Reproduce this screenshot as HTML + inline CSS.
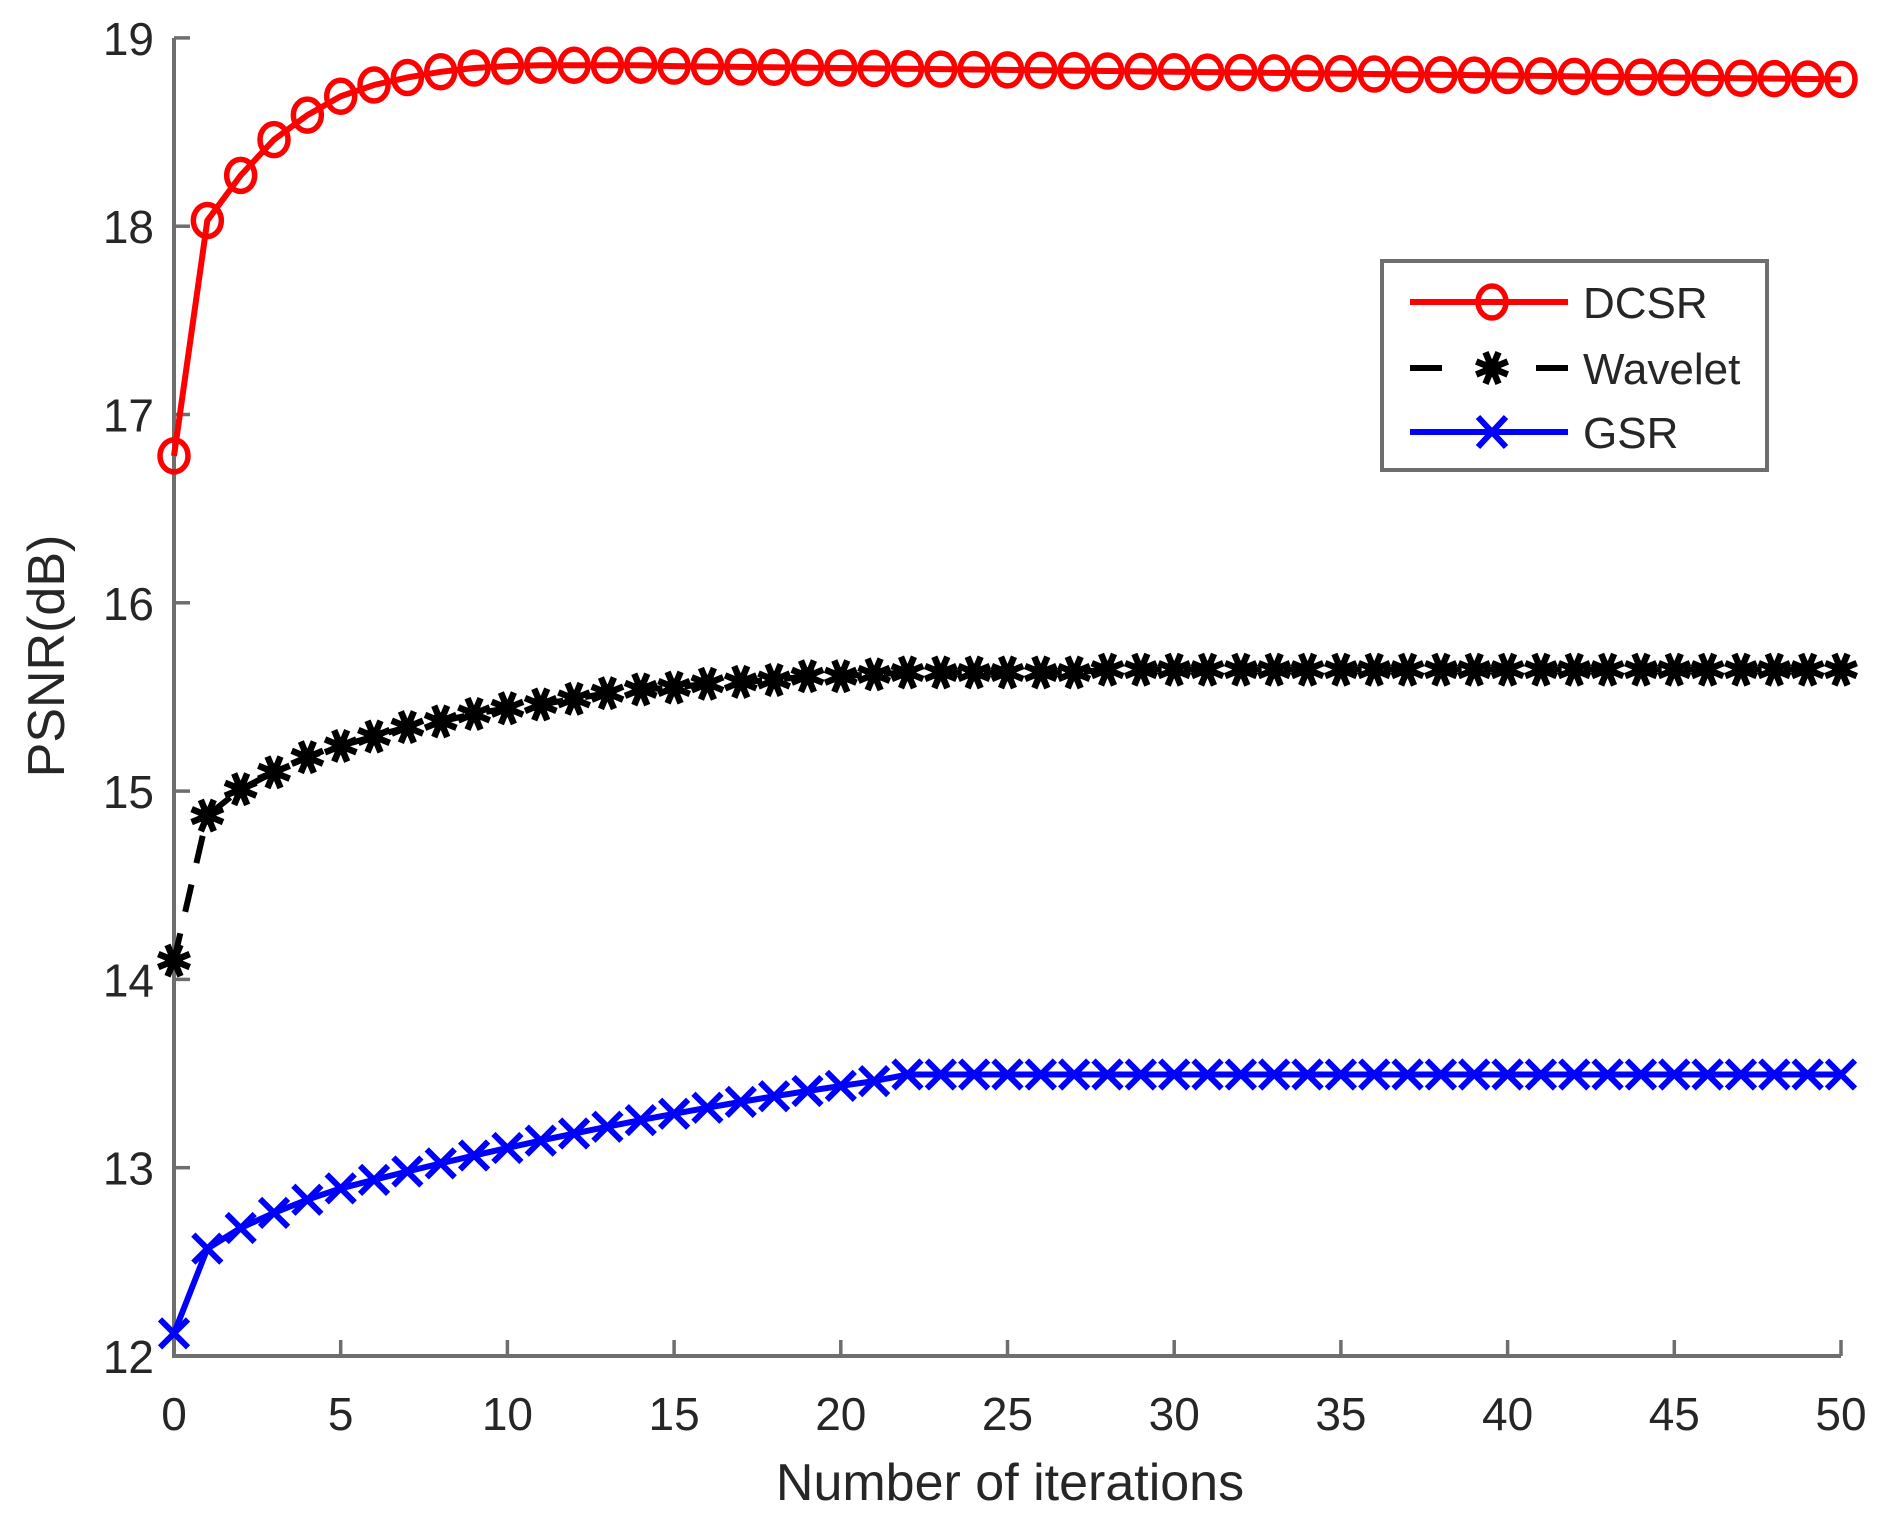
<!DOCTYPE html>
<html><head><meta charset="utf-8"><style>
html,body{margin:0;padding:0;background:#fff;}
svg{display:block;}
text{font-family:"Liberation Sans",sans-serif;fill:#262626;}
</style></head><body>
<svg id="c" width="1895" height="1528" viewBox="0 0 1895 1528" xmlns="http://www.w3.org/2000/svg">
<rect width="1895" height="1528" fill="#fff"/>
<g id="axes" stroke="#6e6e6e" stroke-width="4" fill="none">
<path d="M174,38 L174,1356 L1841,1356"/>
</g>
<g id="ticks" stroke="#6e6e6e" stroke-width="3.5"></g>
<g id="labels" font-size="46"></g>
<g id="series"></g>
<text x="1010" y="1500" font-size="52" text-anchor="middle">Number of iterations</text>
<text transform="translate(64,656) rotate(-90)" font-size="52" text-anchor="middle">PSNR(dB)</text>
<g id="legend">
<rect x="1382" y="261" width="385" height="209" fill="#fff" stroke="#6e6e6e" stroke-width="4"/>
<line x1="1410" y1="302" x2="1568" y2="302" stroke="#ff0000" stroke-width="6"/>
<ellipse cx="1492" cy="302" rx="14" ry="16" fill="none" stroke="#ff0000" stroke-width="5.5"/>
<line x1="1410" y1="368" x2="1442" y2="368" stroke="#000" stroke-width="6"/>
<line x1="1536" y1="368" x2="1568" y2="368" stroke="#000" stroke-width="6"/>
<g id="lgstar"></g>
<line x1="1410" y1="432" x2="1568" y2="432" stroke="#0000ff" stroke-width="6"/>
<path d="M1478,417 L1506,447 M1506,417 L1478,447" stroke="#0000ff" stroke-width="6"/>
<text x="1583" y="318" font-size="44">DCSR</text>
<text x="1583" y="384" font-size="44">Wavelet</text>
<text x="1583" y="448" font-size="44">GSR</text>
</g>
</svg>
<script>
var NS="http://www.w3.org/2000/svg";
function X(i){return 174+i*33.34;}
function Y(v){return 1356-(v-12)*188.3;}
function el(p,n,a){var e=document.createElementNS(NS,n);for(var k in a)e.setAttribute(k,a[k]);p.appendChild(e);return e;}
var T=document.getElementById('ticks'),L=document.getElementById('labels');
for(var i=0;i<=50;i+=5){el(T,'line',{x1:X(i),y1:1356,x2:X(i),y2:1340});
 var t=el(L,'text',{x:X(i),y:1430,'text-anchor':'middle'});t.textContent=i;}
for(var v=12;v<=19;v++){el(T,'line',{x1:174,y1:Y(v),x2:190,y2:Y(v)});
 var t=el(L,'text',{x:154,y:Y(v)+17,'text-anchor':'end'});t.textContent=v;}
var d=[16.78,18.03,18.27,18.46,18.59,18.69,18.75,18.79,18.82,18.84,18.85,18.855,18.855,18.855,18.855,18.85];
for(var i=16;i<=50;i++)d.push(18.85-(i-15)*0.002);
var w=[14.1,14.87,15.01,15.1,15.18,15.24,15.29,15.34,15.37,15.41,15.44,15.46,15.49,15.52,15.54,15.55,15.57,15.58,15.59,15.61,15.61,15.62,15.63,15.63,15.63,15.63,15.63,15.63];
while(w.length<51)w.push(15.645);
var g=[12.12,12.57,12.68,12.76,12.83,12.89];
for(var i=6;i<=21;i++){var f=(i-5)/16;g.push(12.89+0.57*(1.3*f-0.3*f*f));}
while(g.length<51)g.push(13.495);
var S=document.getElementById('series');
function pts(a){return a.map(function(v,i){return X(i)+','+Y(v);}).join(' ');}
el(S,'polyline',{points:pts(d),fill:'none',stroke:'#ff0000','stroke-width':6});
el(S,'polyline',{points:pts(w),fill:'none',stroke:'#000','stroke-width':6,'stroke-dasharray':'28,22'});
el(S,'polyline',{points:pts(g),fill:'none',stroke:'#0000ff','stroke-width':6});
d.forEach(function(v,i){el(S,'ellipse',{cx:X(i),cy:Y(v),rx:14,ry:16,fill:'none',stroke:'#ff0000','stroke-width':5.5});});
function star(p,x,y){var r=17,s='';for(var k=0;k<4;k++){var a=k*Math.PI/4+Math.PI/8;s+='M'+(x-r*Math.cos(a))+','+(y-r*Math.sin(a))+' L'+(x+r*Math.cos(a))+','+(y+r*Math.sin(a))+' ';}
 el(p,'path',{d:s,stroke:'#000','stroke-width':6.5,fill:'none'});el(p,'circle',{cx:x,cy:y,r:9,fill:'#000'});}
w.forEach(function(v,i){star(S,X(i),Y(v));});
g.forEach(function(v,i){var x=X(i),y=Y(v),r=14;el(S,'path',{d:'M'+(x-r)+','+(y-r)+' L'+(x+r)+','+(y+r)+' M'+(x+r)+','+(y-r)+' L'+(x-r)+','+(y+r),stroke:'#0000ff','stroke-width':6});});
star(document.getElementById('lgstar'),1492,368);
</script>
</body></html>
